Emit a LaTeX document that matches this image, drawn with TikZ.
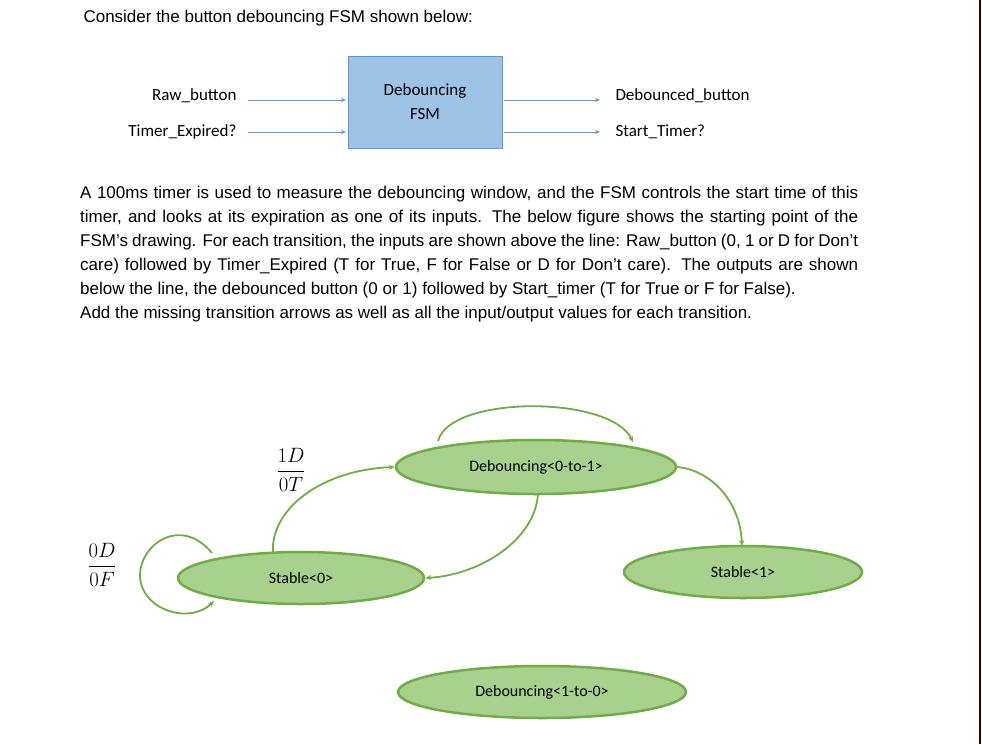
\documentclass[tikz,border=0pt]{standalone}
\usepackage{amsmath}
\usepackage{fontspec}
\setmainfont{Liberation Sans}
\newfontfamily\carl{Carlito}
\usetikzlibrary{shapes.geometric,arrows.meta}
\definecolor{gb}{HTML}{A9D18E}
\definecolor{gd}{HTML}{70AD47}
\definecolor{bb}{HTML}{9DC3E6}
\definecolor{bd}{HTML}{5B9BD5}
\begin{document}
\begin{tikzpicture}[x=1pt,y=-1pt,
 st/.style={ellipse,draw=gd,fill=gb,line width=2.5pt,font=\carl\fontsize{16}{18}\selectfont},
 ge/.style={draw=gd,line width=1.8pt,-{Stealth[length=6pt,width=5pt]}},
 be/.style={draw=bd,line width=1pt,-{Stealth[length=5pt,width=4pt]}},
 lb/.style={font=\carl\fontsize{17}{20}\selectfont},
 fr/.style={font=\fontsize{20}{22}\selectfont}]
\useasboundingbox (0,0) rectangle (982,744);
\draw[line width=1.5pt,black!80!red] (980,0) -- (980,744);
\node[anchor=west,font=\fontsize{17}{20}\selectfont] (t1) at (80,18) {Consider the button debouncing FSM shown below:};
\node[draw=bd,fill=bb,line width=1pt,minimum width=154pt,minimum height=92pt,align=center,font=\carl\fontsize{17}{24}\selectfont] (fsm) at (425,102) {Debouncing\\FSM};
\node[lb,anchor=east] (i1) at (240,96) {Raw\_button};
\node[lb,anchor=east] (i2) at (240,132) {Timer\_Expired?};
\node[lb,anchor=west] (o1) at (612,96) {Debounced\_button};
\node[lb,anchor=west] (o2) at (612,132) {Start\_Timer?};
\coordinate (a1) at (248,100); \coordinate (a2) at (248,132);
\coordinate (b1) at (346,100); \coordinate (b2) at (346,132);
\coordinate (c1) at (504,100); \coordinate (c2) at (504,132);
\coordinate (d1) at (600,100); \coordinate (d2) at (600,132);
\draw[be] (a1) -- (b1); \draw[be] (a2) -- (b2);
\draw[be] (c1) -- (d1); \draw[be] (c2) -- (d2);
\node[anchor=north west,text width=778pt,align=justify,inner sep=0pt,font=\fontsize{17}{24}\selectfont] (par) at (80,186) {A 100ms timer is used to measure the debouncing window, and the FSM controls the start time of this timer, and looks at its expiration as one of its inputs. The below figure shows the starting point of the FSM's drawing. For each transition, the inputs are shown above the line: Raw\_button (0, 1 or D for Don't care) followed by Timer\_Expired (T for True, F for False or D for Don't care). The outputs are shown below the line, the debounced button (0 or 1) followed by Start\_timer (T for True or F for False).\\Add the missing transition arrows as well as all the input/output values for each transition.};
\node[st,minimum width=280pt,minimum height=54pt] (d01) at (536,467) {Debouncing<0-to-1>};
\node[st,minimum width=246pt,minimum height=52pt] (s0) at (301,578) {Stable<0>};
\node[st,minimum width=238pt,minimum height=52pt] (s1) at (743,572) {Stable<1>};
\node[st,minimum width=288pt,minimum height=52pt] (d10) at (542,692) {Debouncing<1-to-0>};
\draw[ge] (438,441) .. controls (450,395) and (610,395) .. (633,442);
\draw[ge] (273,553) .. controls (270,510) and (320,470) .. (d01.west);
\draw[ge] (538,494) .. controls (535,540) and (480,575) .. (s0.east);
\draw[ge] (d01.east) .. controls (710,470) and (740,500) .. (742,546);
\draw[ge] (212,553) .. controls (180,515) and (140,545) .. (140,575) .. controls (140,610) and (190,625) .. (214,601);
\node[fr] (f1) at (291,470) {$\dfrac{1D}{0T}$};
\node[fr] (f2) at (102,565) {$\dfrac{0D}{0F}$};
\end{tikzpicture}
\end{document}
